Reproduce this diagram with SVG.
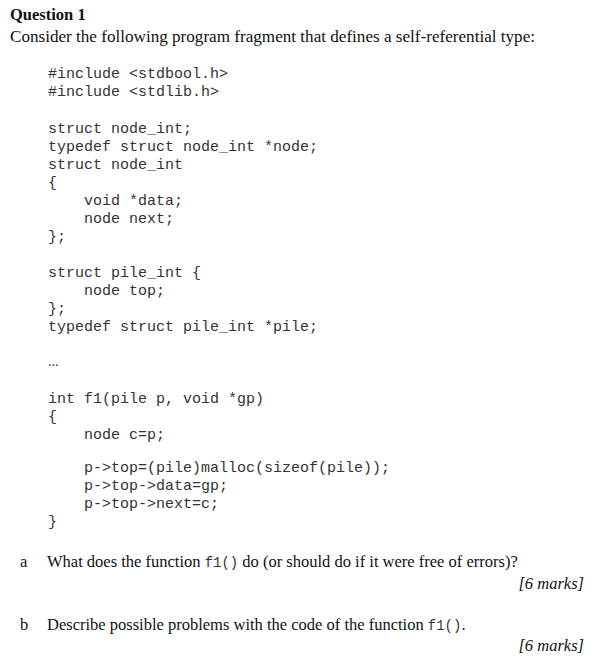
<svg xmlns="http://www.w3.org/2000/svg" width="602" height="666" viewBox="0 0 602 666">
<style>
.s{font-family:"Liberation Serif",serif;font-size:16.5px;fill:#111}
.c{font-family:"Liberation Mono",monospace;font-size:15px;fill:#333;white-space:pre}
.m{font-family:"Liberation Serif",serif;font-size:16.5px;font-style:italic;fill:#111}
</style>
<rect width="602" height="666" fill="#fff"/>
<text class="s" x="10" y="20" font-weight="bold">Question 1</text>
<text class="s" x="10" y="42" textLength="525" lengthAdjust="spacingAndGlyphs">Consider the following program fragment that defines a self-referential type:</text>
<g class="c">
<text x="48" y="78">#include &lt;stdbool.h&gt;</text>
<text x="48" y="96">#include &lt;stdlib.h&gt;</text>
<text x="48" y="133">struct node_int;</text>
<text x="48" y="151">typedef struct node_int *node;</text>
<text x="48" y="169">struct node_int</text>
<text x="48" y="187">{</text>
<text x="84" y="205">void *data;</text>
<text x="84" y="223">node next;</text>
<text x="48" y="241">};</text>
<text x="48" y="277">struct pile_int {</text>
<text x="84" y="295">node top;</text>
<text x="48" y="313">};</text>
<text x="48" y="331">typedef struct pile_int *pile;</text>
<text x="48" y="366" style="font-family:'Liberation Serif',serif;font-size:14px">...</text>
<text x="48" y="403">int f1(pile p, void *gp)</text>
<text x="48" y="421">{</text>
<text x="84" y="439">node c=p;</text>
<text x="84" y="472">p-&gt;top=(pile)malloc(sizeof(pile));</text>
<text x="84" y="490">p-&gt;top-&gt;data=gp;</text>
<text x="84" y="508">p-&gt;top-&gt;next=c;</text>
<text x="48" y="526">}</text>
</g>
<text class="s" x="20" y="567">a</text>
<text class="s" x="47" y="567">What does the function <tspan class="c" style="font-size:14px">f1()</tspan> do (or should do if it were free of errors)?</text>
<text class="m" x="584" y="589" text-anchor="end">[6 marks]</text>
<text class="s" x="20" y="630">b</text>
<text class="s" x="47" y="630">Describe possible problems with the code of the function <tspan class="c" style="font-size:14px">f1()</tspan>.</text>
<text class="m" x="584" y="651" text-anchor="end">[6 marks]</text>
</svg>
